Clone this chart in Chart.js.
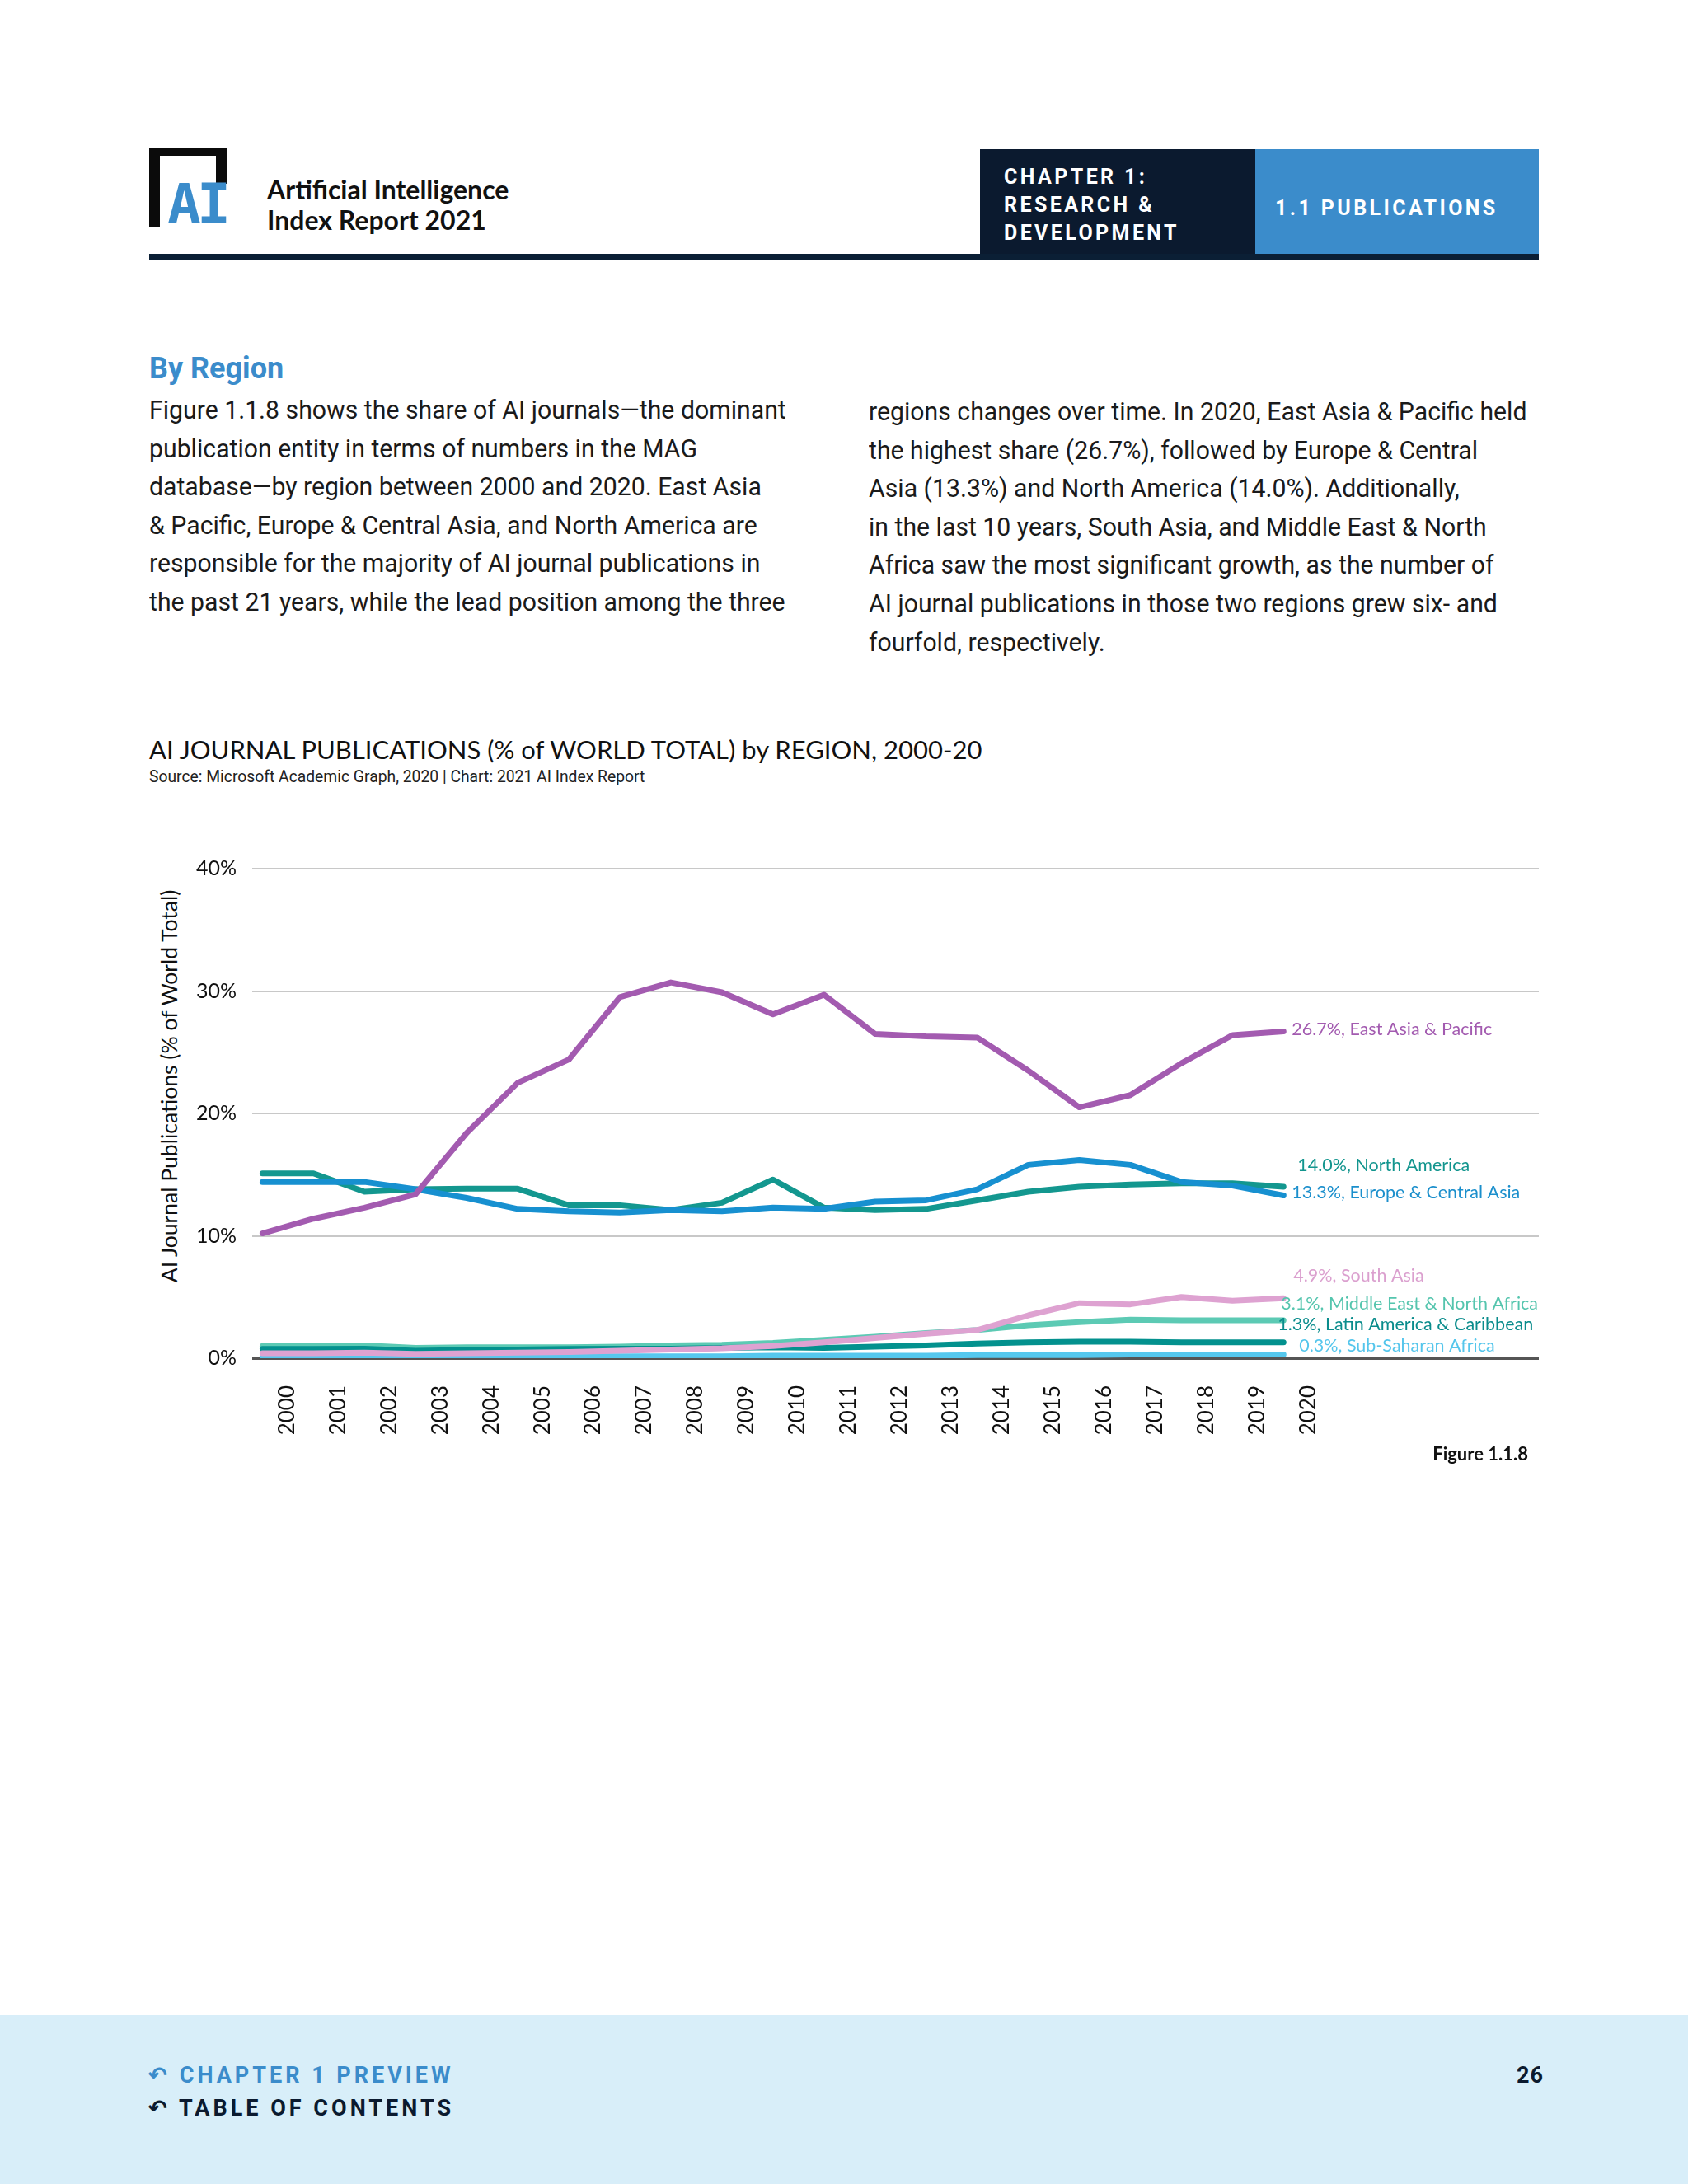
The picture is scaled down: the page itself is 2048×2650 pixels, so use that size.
<!DOCTYPE html>
<html>
<head>
<meta charset="utf-8">
<script src="https://cdn.jsdelivr.net/npm/chart.js@4.4.0/dist/chart.umd.min.js"></script>
<style>
  html, body { margin: 0; padding: 0; background: #fff; }
  body { width: 2048px; height: 2650px; position: relative; overflow: hidden; font-family: "Lato", "DejaVu Sans", sans-serif; color: #1a1a1a; }
  .abs { position: absolute; white-space: nowrap; }
  .hdr-line { left: 181px; top: 308px; width: 1686px; height: 7px; background: #0b1f35; }
  .box-dark { left: 1189px; top: 181px; width: 334px; height: 128px; background: #0b1a2f; }
  .box-blue { left: 1523px; top: 181px; width: 344px; height: 128px; background: #3b8ccb; }
  .hdr-txt { color: #fff; font-family: "Roboto", sans-serif; font-weight: 700; font-size: 25px; letter-spacing: 3.4px; line-height: 34px; }
  .body-col { font-family: "Roboto", sans-serif; font-size: 31px; line-height: 46.6px; color: #1a1a1a; transform-origin: 0 0; transform: scaleX(0.975); }
  .footer { left: 0; top: 2445px; width: 2048px; height: 205px; background: #d8eef9; }
  .foot-txt { font-family: "Roboto", sans-serif; font-weight: 700; font-size: 27px; letter-spacing: 4px; }
</style>
</head>
<body>

<!-- header -->
<div class="abs" style="left:181px;top:180px;width:94px;height:9px;background:#0b0b0b"></div>
<div class="abs" style="left:181px;top:180px;width:13px;height:96px;background:#0b0b0b"></div>
<div class="abs" style="left:262px;top:180px;width:13px;height:43px;background:#0b0b0b"></div>
<div class="abs" style="left:203px;top:216px;font-family:'DejaVu Sans Mono',monospace;font-weight:700;font-size:68px;line-height:64px;color:#3b8ccb;letter-spacing:-5px">AI</div>
<div class="abs" style="left:324px;top:211px;font-size:32px;line-height:37px;font-weight:700;color:#111">Artificial Intelligence<br>Index Report 2021</div>

<div class="abs box-dark"></div>
<div class="abs box-blue"></div>
<div class="abs hdr-line"></div>
<div class="abs hdr-txt" style="left:1218px;top:198px">CHAPTER 1:<br>RESEARCH &amp;<br>DEVELOPMENT</div>
<div class="abs hdr-txt" style="left:1547px;top:236px">1.1 PUBLICATIONS</div>

<!-- text -->
<div class="abs" style="left:181px;top:426px;font-family:'Roboto',sans-serif;font-weight:700;font-size:36px;color:#3b8ccb">By Region</div>
<div class="abs body-col" style="left:181px;top:475px">Figure 1.1.8 shows the share of AI journals—the dominant<br>publication entity in terms of numbers in the MAG<br>database—by region between 2000 and 2020. East Asia<br>&amp; Pacific, Europe &amp; Central Asia, and North America are<br>responsible for the majority of AI journal publications in<br>the past 21 years, while the lead position among the three</div>
<div class="abs body-col" style="left:1054px;top:477px">regions changes over time. In 2020, East Asia &amp; Pacific held<br>the highest share (26.7%), followed by Europe &amp; Central<br>Asia (13.3%) and North America (14.0%). Additionally,<br>in the last 10 years, South Asia, and Middle East &amp; North<br>Africa saw the most significant growth, as the number of<br>AI journal publications in those two regions grew six- and<br>fourfold, respectively.</div>

<div class="abs" style="left:181px;top:891px;font-size:31px;line-height:37px;color:#111">AI JOURNAL PUBLICATIONS (% of WORLD TOTAL) by REGION, 2000-20</div>
<div class="abs" style="left:181px;top:930px;font-family:'Roboto',sans-serif;font-size:20px;color:#222;transform-origin:0 0;transform:scaleX(0.965)">Source: Microsoft Academic Graph, 2020 | Chart: 2021 AI Index Report</div>

<!-- y axis title -->
<div class="abs" style="left:205px;top:1318px;font-size:26.5px;color:#111;transform:translate(-50%,-50%) rotate(-90deg)">AI Journal Publications (% of World Total)</div>

<div class="abs" style="left:160px;top:1010px;width:1740px;height:780px">
  <canvas id="grafico"></canvas>
</div>

<div class="abs" style="right:194px;top:1750px;font-size:22px;font-weight:700;color:#111">Figure 1.1.8</div>

<!-- footer -->
<div class="abs footer"></div>
<div class="abs foot-txt" style="left:180px;top:2502px;color:#3b8ccb">↶ CHAPTER 1 PREVIEW</div>
<div class="abs foot-txt" style="left:180px;top:2542px;color:#0b1a2f">↶ TABLE OF CONTENTS</div>
<div class="abs foot-txt" style="left:1840px;top:2502px;color:#0b1a2f;letter-spacing:1px">26</div>

<script>
// Years and shares (% of world total)
const years = [2000, 2001, 2002, 2003, 2004, 2005, 2006, 2007, 2008, 2009, 2010,
	2011, 2012, 2013, 2014, 2015, 2016, 2017, 2018, 2019, 2020];

const eastAsiaPacific = [10.2, 11.4, 12.3, 13.4, 18.4, 22.5, 24.4, 29.5, 30.7, 29.9, 28.1,
	29.7, 26.5, 26.3, 26.2, 23.5, 20.5, 21.5, 24.1, 26.4, 26.7];
const northAmerica = [15.1, 15.1, 13.6, 13.8, 13.85, 13.85, 12.5, 12.5, 12.1, 12.7, 14.6,
	12.3, 12.1, 12.2, 12.9, 13.6, 14.0, 14.2, 14.3, 14.3, 14.0];
const europeCentralAsia = [14.4, 14.4, 14.4, 13.8, 13.1, 12.2, 12.0, 11.9, 12.1, 12.0, 12.3,
	12.2, 12.8, 12.9, 13.8, 15.8, 16.2, 15.8, 14.4, 14.1, 13.3];
const southAsia = [0.4, 0.4, 0.45, 0.35, 0.4, 0.45, 0.5, 0.6, 0.7, 0.8, 1.0,
	1.3, 1.65, 2.0, 2.3, 3.5, 4.5, 4.4, 5.0, 4.7, 4.9];
const middleEastNorthAfrica = [1.0, 1.0, 1.05, 0.85, 0.9, 0.9, 0.9, 0.95, 1.05, 1.1, 1.25,
	1.5, 1.75, 2.05, 2.3, 2.7, 2.95, 3.15, 3.1, 3.1, 3.1];
const latinAmericaCaribbean = [0.75, 0.75, 0.78, 0.6, 0.68, 0.7, 0.75, 0.78, 0.78, 0.85, 0.9,
	0.85, 0.95, 1.05, 1.2, 1.3, 1.35, 1.35, 1.3, 1.3, 1.3];
const subSaharanAfrica = [0.15, 0.15, 0.15, 0.15, 0.15, 0.15, 0.15, 0.15, 0.15, 0.15, 0.2,
	0.2, 0.2, 0.2, 0.25, 0.25, 0.25, 0.3, 0.3, 0.3, 0.3];

const yTicks = [0, 10, 20, 30, 40];

// Series: first one is drawn on top
const series = [
	{ name: "East Asia & Pacific", values: eastAsiaPacific, color: "#a35bb0", text: "#a35bb0", dx: 10, dy: -2 },
	{ name: "Europe & Central Asia", values: europeCentralAsia, color: "#1790d0", text: "#1b8fcc", dx: 10, dy: -3 },
	{ name: "North America", values: northAmerica, color: "#13978f", text: "#12958e", dx: 17, dy: -26 },
	{ name: "South Asia", values: southAsia, color: "#dea2d1", text: "#dba0cf", dx: 12, dy: -27 },
	{ name: "Latin America & Caribbean", values: latinAmericaCaribbean, color: "#03918e", text: "#0a8c8c", dx: -7, dy: -22 },
	{ name: "Middle East & North Africa", values: middleEastNorthAfrica, color: "#5ccab4", text: "#55c5ae", dx: -3, dy: -20 },
	{ name: "Sub-Saharan Africa", values: subSaharanAfrica, color: "#56c8ee", text: "#55c6ec", dx: 19, dy: -10 },
];

// End-of-line labels: "26.7%, East Asia & Pacific"
const endLabels = {
	id: "endLabels",
	afterDatasetsDraw(chart) {
		const ctx = chart.ctx;
		ctx.save();
		ctx.font = "21.5px Lato, sans-serif";
		ctx.textBaseline = "middle";
		ctx.textAlign = "left";
		chart.data.datasets.forEach((ds, i) => {
			const meta = chart.getDatasetMeta(i);
			const last = meta.data[meta.data.length - 1];
			const s = series[i];
			const v = s.values[s.values.length - 1];
			ctx.fillStyle = s.text;
			ctx.fillText(v.toFixed(1) + "%, " + s.name, last.x + s.dx, last.y + s.dy);
		});
		ctx.restore();
	},
};

const ctx = document.getElementById("grafico");

const graph = new Chart(ctx, {
	type: "line",
	data: {
		datasets: series.map((s) => ({
			label: s.name,
			data: years.map((y, i) => ({ x: y, y: s.values[i] })),
			borderColor: s.color,
			backgroundColor: s.color,
			borderWidth: 7,
			borderCapStyle: "round",
			borderJoinStyle: "round",
			pointRadius: 0,
			tension: 0,
		})),
	},
	options: {
		responsive: true,
		maintainAspectRatio: false,
		devicePixelRatio: 1,
		animation: false,
		layout: { padding: { top: 44, right: 33, bottom: 0, left: 0 } },
		plugins: { legend: { display: false }, tooltip: { enabled: false } },
		scales: {
			x: {
				type: "linear",
				min: 1999.8,
				max: 2025,
				afterBuildTicks: (scale) => {
					scale.ticks = years.map((v) => ({ value: v }));
				},
				afterFit: (scale) => {
					scale.height = 142;
				},
				grid: { display: false, drawTicks: false },
				border: { display: false },
				ticks: {
					autoSkip: false,
					minRotation: 90,
					maxRotation: 90,
					padding: 33,
					labelOffset: 30,
					color: "#111",
					font: { family: "Lato", size: 26 },
					callback: (v) => String(v),
				},
			},
			y: {
				min: 0,
				max: 40,
				afterBuildTicks: (scale) => {
					scale.ticks = yTicks.map((v) => ({ value: v }));
				},
				afterFit: (scale) => {
					scale.width = 146;
				},
				grid: {
					drawTicks: false,
					color: (c) => (c.tick && c.tick.value === 0 ? "#555555" : "#c8c8c8"),
					lineWidth: (c) => (c.tick && c.tick.value === 0 ? 4 : 2),
				},
				border: { display: false },
				ticks: {
					padding: 19,
					color: "#111",
					font: { family: "Lato", size: 25 },
					callback: (v) => v + "%",
				},
			},
		},
	},
	plugins: [endLabels],
});
</script>
</body>
</html>
